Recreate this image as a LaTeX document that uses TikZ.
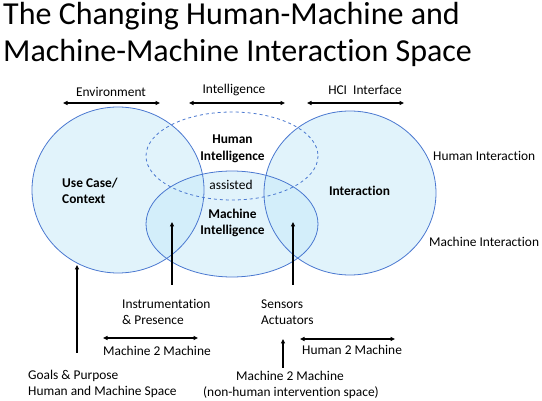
\documentclass[tikz,border=0pt]{standalone}
\usepackage{fontspec}
\setmainfont{Carlito}[RawFeature={-liga;-clig;-calt;-dlig}]
\usetikzlibrary{arrows.meta, positioning}
\definecolor{circleLine}{HTML}{4A78D0}
\definecolor{circleFill}{HTML}{C4E8F8}
\tikzset{
  lbl/.style={font=\fontsize{13.4}{16}\selectfont, inner sep=0pt},
  lblBold/.style={lbl, font=\fontsize{13.4}{16}\selectfont\bfseries},
  arr/.style={-{Triangle[length=4.5pt,width=4pt]}, line width=1.1pt},
  darr/.style={{Triangle[length=4.5pt,width=4pt]}-{Triangle[length=4.5pt,width=4pt]}, line width=1.1pt},
  area/.style={fill=circleFill, fill opacity=0.5}
}
\begin{document}
\begin{tikzpicture}[x=1pt,y=-1pt]
  \useasboundingbox (0,0) rectangle (542,401);

  % title
  \node[anchor=base west, inner sep=0pt, font=\fontsize{32}{38}\selectfont] (titleA) at (3,25) {The Changing Human-Machine and};
  \node[anchor=base west, inner sep=0pt, font=\fontsize{32}{38}\selectfont] (titleB) at (3,61.5) {Machine-Machine Interaction Space};

  % the spaces
  \path[area] (118,190) ellipse [x radius=86, y radius=83];
  \path[area] (350,193) ellipse [x radius=86, y radius=82];
  \path[area] (232,224) ellipse [x radius=86, y radius=53];
  \draw[circleLine, line width=0.8pt] (118,190) ellipse [x radius=86, y radius=83];
  \draw[circleLine, line width=0.8pt] (350,193) ellipse [x radius=86, y radius=82];
  \draw[circleLine, line width=0.8pt] (232,224) ellipse [x radius=86, y radius=53];
  \draw[circleLine, line width=0.8pt, dashed] (232,156) ellipse [x radius=86, y radius=44];

  % labels in the spaces
  \node[lblBold, anchor=base west] (useA) at (62,187.7) {Use Case/};
  \node[lblBold, anchor=base west] (useB) at (62,204) {Context};
  \node[lblBold, anchor=base] (humA) at (232.5,144) {Human};
  \node[lblBold, anchor=base] (humB) at (232.5,160.7) {Intelligence};
  \node[lbl, anchor=base] (assist) at (231,190) {assisted};
  \node[lblBold, anchor=base] (macA) at (232.5,218.3) {Machine};
  \node[lblBold, anchor=base] (macB) at (232.5,235) {Intelligence};
  \node[lblBold, anchor=base] (inter) at (359.5,195.7) {Interaction};

  % top scale
  \node[lbl, anchor=base] (env) at (111,96.7) {Environment};
  \node[lbl, anchor=base] (intel) at (234,94) {Intelligence};
  \node[lbl, anchor=base] (hci) at (365,95) {HCI\ \ Interface};
  \coordinate (envL) at (63,103);   \coordinate (envR) at (160,103);
  \coordinate (intL) at (189,103);  \coordinate (intR) at (285,103);
  \coordinate (hciL) at (307,103);  \coordinate (hciR) at (404,103);
  \draw[darr] (envL) -- (envR);
  \draw[darr] (intL) -- (intR);
  \draw[darr] (hciL) -- (hciR);

  \node[lbl, anchor=base west] (humInt) at (433,161) {Human Interaction};
  \node[lbl, anchor=base west] (macInt) at (429,246.7) {Machine Interaction};

  % bottom
  \node[lbl, anchor=base west] (instA) at (122,308.3) {Instrumentation};
  \node[lbl, anchor=base west] (instB) at (122,325) {\& Presence};
  \node[lbl, anchor=base west] (sensA) at (261,308.3) {Sensors};
  \node[lbl, anchor=base west] (sensB) at (261,325) {Actuators};
  \node[lbl, anchor=base west] (mmLeft) at (103,355.7) {Machine 2 Machine};
  \node[lbl, anchor=base west] (hm) at (302,354.3) {Human 2 Machine};
  \node[lbl, anchor=base west] (goalA) at (28,379.3) {Goals \& Purpose};
  \node[lbl, anchor=base west] (goalB) at (28,395.7) {Human and Machine Space};
  \node[lbl, anchor=base] (mmA) at (290,380.7) {Machine 2 Machine};
  \node[lbl, anchor=base] (mmB) at (291,396.7) {(non-human intervention space)};

  \coordinate (goalTip) at (77,265);    \coordinate (goalTail) at (77,353);
  \coordinate (instTip) at (172,222);   \coordinate (instTail) at (172,285);
  \coordinate (sensTip) at (293,222);   \coordinate (sensTail) at (293,285);
  \coordinate (mmTip) at (283,339);     \coordinate (mmTail) at (283,368);
  \coordinate (mmL) at (103,338);       \coordinate (mmR) at (198,338);
  \coordinate (hmL) at (300,339);       \coordinate (hmR) at (395,339);
  \draw[arr] (goalTail) -- (goalTip);
  \draw[arr] (instTail) -- (instTip);
  \draw[arr] (sensTail) -- (sensTip);
  \draw[arr] (mmTail) -- (mmTip);
  \draw[darr] (mmL) -- (mmR);
  \draw[darr] (hmL) -- (hmR);
\end{tikzpicture}
\end{document}
